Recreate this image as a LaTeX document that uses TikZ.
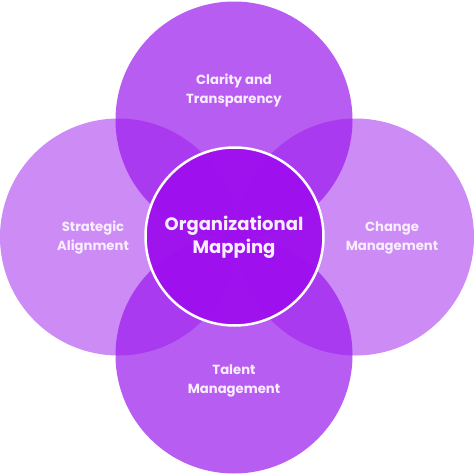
\documentclass[tikz,border=0pt]{standalone}
\usepackage{fontspec}
\setmainfont{Poppins}
\definecolor{ringpurple}{HTML}{9A18EC}
\definecolor{corepurple}{HTML}{9E0EEE}
\definecolor{labelwhite}{HTML}{F8EEFF}

\tikzset{
  petal/.style={circle,fill=ringpurple,minimum size=237pt,inner sep=0pt},
  petallabel/.style={text=labelwhite,align=center,font=\bfseries\fontsize{13.2}{19}\selectfont},
  core/.style={circle,fill=corepurple,fill opacity=0.95,draw=white,line width=2.5pt,minimum size=178pt,inner sep=0pt},
  corelabel/.style={text=labelwhite,align=center,font=\bfseries\fontsize{18}{23}\selectfont}
}

\begin{document}
\begin{tikzpicture}[x=1pt,y=-1pt]
		\useasboundingbox (0,0) rectangle (474,474);
		% side circles, lighter
		\node [petal,fill opacity=0.5] (left) at (118.5,237) {};
		\node [petal,fill opacity=0.5] (right) at (355.5,237) {};
		% top and bottom circles
		\node [petal,fill opacity=0.7] (top) at (234,120) {};
		\node [petal,fill opacity=0.7] (bottom) at (234,355) {};
		% centre
		\node [core] (centre) at (234.5,236.5) {};
		
		\node [petallabel] (toplbl) at (234,90.5) {Clarity and\\Transparency};
		\node [petallabel] (leftlbl) at (93,237.5) {Strategic\\Alignment};
		\node [petallabel] (rightlbl) at (392,237.5) {Change\\Management};
		\node [petallabel] (bottomlbl) at (234,381) {Talent\\Management};
		\node [corelabel] (centrelbl) at (234,237.5) {Organizational\\Mapping};
	\end{tikzpicture}
\end{document}
